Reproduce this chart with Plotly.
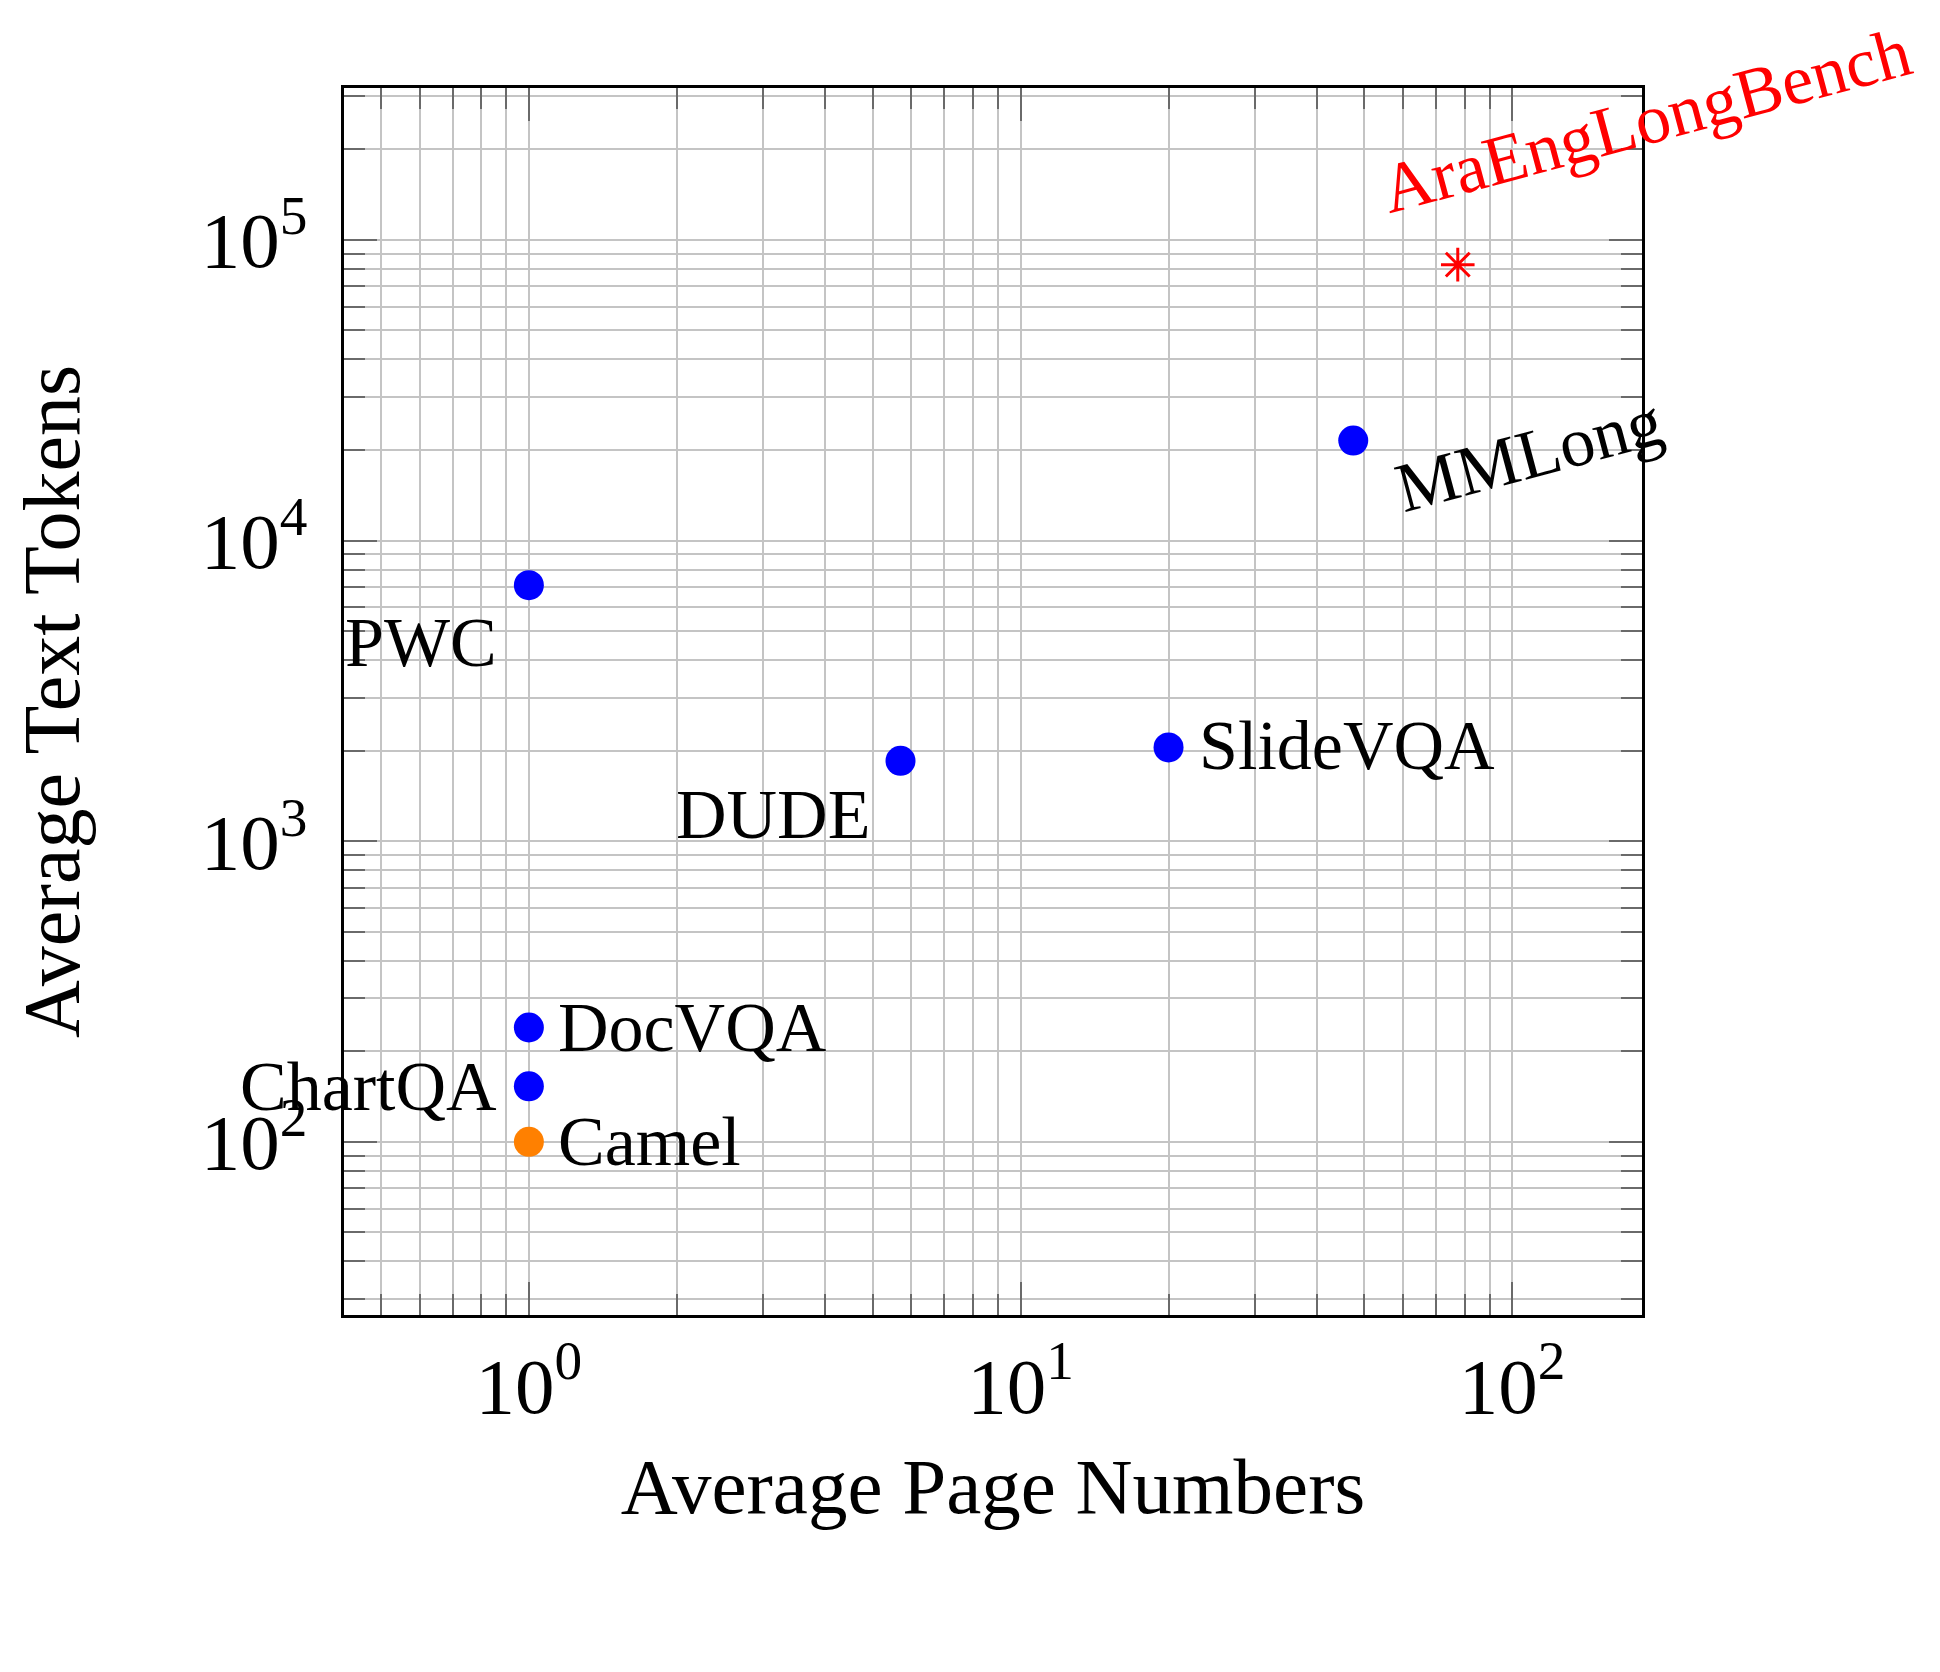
import math
import plotly.graph_objects as go

# ---- data ----
blue_names = ["PWC", "DUDE", "SlideVQA", "MMLong", "DocVQA", "ChartQA"]
blue_pages = [1, 5.7, 20, 47.5, 1, 1]
blue_tokens = [7100, 1850, 2050, 21500, 240, 153]

orange_names = ["Camel"]
orange_pages = [1]
orange_tokens = [100]

red_names = ["AraEngLongBench"]
red_pages = [77.5]
red_tokens = [82700]

x_tickvals = [1, 10, 100]
x_ticktext = ["10<sup>0</sup>", "10<sup>1</sup>", "10<sup>2</sup>"]
y_tickvals = [100, 1000, 10000, 100000]
y_ticktext = ["10<sup>2</sup>", "10<sup>3</sup>", "10<sup>4</sup>", "10<sup>5</sup>"]

x_title = "Average Page Numbers"
y_title = "Average Text Tokens"

# ---- styling ----
FONT = "Liberation Serif"
GRID = "#c4c4c4"
TICKC = "#6a6a6a"

x_minor = [m * 10 ** e for e in range(-1, 3) for m in range(2, 10)]
y_minor = [m * 10 ** e for e in range(1, 6) for m in range(2, 10)]

# label placement: (xanchor, yanchor, xshift, yshift, angle)
label_style = {
    "PWC": ("right", "middle", -30, -57, 0),
    "DUDE": ("right", "middle", -29, -54, 0),
    "SlideVQA": ("left", "middle", 28, 2, 0),
    "MMLong": ("center", "middle", 176, -14, -15),
    "DocVQA": ("left", "middle", 27, 0, 0),
    "ChartQA": ("right", "middle", -30, 0, 0),
    "Camel": ("left", "middle", 27, 0, 0),
    "AraEngLongBench": ("center", "middle", 188, 144, -15),
}

fig = go.Figure()
fig.add_trace(go.Scatter(x=blue_pages, y=blue_tokens, mode="markers",
                         marker=dict(color="#0000ff", size=30, line=dict(width=0)),
                         showlegend=False))
fig.add_trace(go.Scatter(x=orange_pages, y=orange_tokens, mode="markers",
                         marker=dict(color="#ff8000", size=30, line=dict(width=0)),
                         showlegend=False))
fig.add_trace(go.Scatter(x=red_pages, y=red_tokens, mode="markers",
                         marker=dict(symbol="asterisk-open", size=28, color="#ff0000",
                                     line=dict(color="#ff0000", width=3)),
                         showlegend=False))

def add_labels(names, xs, ys, color):
    for n, x, y in zip(names, xs, ys):
        xa, ya, dx, dy, ang = label_style[n]
        # annotation positions on log axes are given in log10 units
        fig.add_annotation(x=math.log10(x), y=math.log10(y), xref="x", yref="y",
                           text=n, showarrow=False,
                           xanchor=xa, yanchor=ya, xshift=dx, yshift=dy,
                           textangle=ang,
                           font=dict(family=FONT, size=70, color=color))

add_labels(blue_names, blue_pages, blue_tokens, "black")
add_labels(orange_names, orange_pages, orange_tokens, "black")
add_labels(red_names, red_pages, red_tokens, "#ff0000")

common = dict(
    type="log", showgrid=True, gridcolor=GRID, gridwidth=2,
    ticks="inside", ticklen=33, tickwidth=2, tickcolor=TICKC,
    showline=True, linecolor="black", linewidth=2.5, mirror="ticks",
    zeroline=False, tickmode="array",
    tickfont=dict(family=FONT, size=79, color="black"),
)

fig.update_xaxes(**common, range=[-0.376, 2.264],
                 tickvals=x_tickvals, ticktext=x_ticktext,
                 minor=dict(tickmode="array", tickvals=x_minor, ticks="inside",
                            ticklen=21, tickwidth=2, tickcolor=TICKC,
                            showgrid=True, gridcolor=GRID, gridwidth=2),
                 title=dict(text=x_title, font=dict(family=FONT, size=79, color="black"),
                            standoff=30))
fig.update_yaxes(**common, range=[1.424, 5.505],
                 tickvals=y_tickvals, ticktext=y_ticktext,
                 ticklabelstandoff=18,
                 minor=dict(tickmode="array", tickvals=y_minor, ticks="inside",
                            ticklen=21, tickwidth=2, tickcolor=TICKC,
                            showgrid=True, gridcolor=GRID, gridwidth=2),
                 title=dict(text=y_title, font=dict(family=FONT, size=80, color="black"),
                            standoff=100))

fig.update_layout(
    width=1940, height=1672,
    margin=dict(l=336, r=306, t=80, b=365, autoexpand=False),
    paper_bgcolor="white", plot_bgcolor="white",
    font=dict(family=FONT, color="black"),
)

fig.write_html("out.html")
